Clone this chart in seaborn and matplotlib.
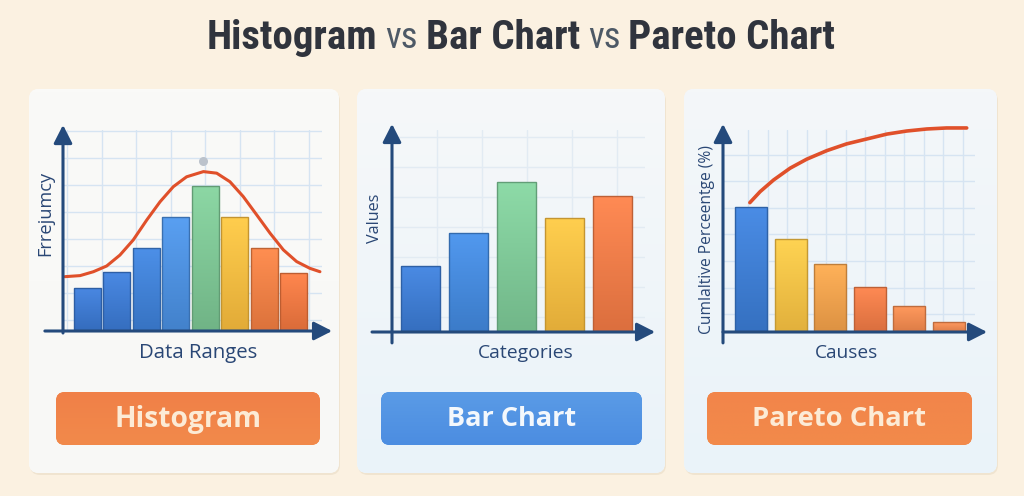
import matplotlib
matplotlib.use("Agg")
import matplotlib.pyplot as plt
import matplotlib.colors as mcolors
import numpy as np
import seaborn as sns
from matplotlib.patches import FancyBboxPatch
from matplotlib.colors import LinearSegmentedColormap
from matplotlib import font_manager

# --- data ---
# histogram: bin index and frequency
hist_bins = [0, 1, 2, 3, 4, 5, 6, 7]
hist_freq = [16.5, 22.7, 31.9, 43.8, 55.8, 43.8, 31.9, 22.3]
hist_colors = ['#3A78D2', '#3B7AD4', '#3D80D8', '#4A90E2', '#7DC895', '#FBBE3E', '#F47F42', '#F2773F']
# fitted curve over the histogram (same units)
curve_x = [-0.76, -0.25, 0.20, 0.65, 1.10, 1.55, 2.01, 2.46, 2.91, 3.36,
           3.93, 4.38, 4.83, 5.28, 5.74, 6.19, 6.64, 7.09, 7.54, 7.88]
curve_y = [20.9, 21.3, 22.8, 25.0, 29.2, 35.0, 42.7, 49.7, 55.5, 59.3,
           61.3, 60.7, 57.4, 51.7, 44.6, 37.6, 31.2, 26.7, 24.1, 22.8]

# bar chart
categories = ['A', 'B', 'C', 'D', 'E']
cat_values = [44, 66, 100, 76, 90.7]
cat_colors = ['#3B7BD4', '#4289DF', '#7ECB98', '#FBBF3F', '#F47B45']

# pareto chart
causes = ['C1', 'C2', 'C3', 'C4', 'C5', 'C6']
cause_pct = [61.3, 45.6, 33.3, 22.1, 12.7, 4.9]
cause_colors = ['#3B7DD6', '#FBC443', '#F5A24A', '#F27B45', '#F58A4E', '#F58A50']
cum_x = [-0.03, 0.23, 0.57, 0.99, 1.41, 1.92, 2.42, 2.93, 3.44, 3.94, 4.45, 4.95, 5.46]
cum_pct = [63.4, 68.8, 74.5, 80.3, 84.7, 88.9, 92.2, 94.6, 97.0, 98.5, 99.5, 100.0, 100.0]

# --- style ---
W, H = 1024, 496
BG = '#FBF1E1'
NAVY = '#244A7C'
LABEL = '#2A4775'
RED = '#E0502A'

sns.set_theme(style='white')
avail = {f.name for f in font_manager.fontManager.ttflist}
body_font = 'Open Sans' if 'Open Sans' in avail else 'DejaVu Sans'
title_font = next((f for f in ['Liberation Sans Narrow', 'Roboto Condensed', 'Roboto']
                   if f in avail), 'DejaVu Sans')
plt.rcParams['font.family'] = [body_font, 'DejaVu Sans']

fig = plt.figure(figsize=(W / 100, H / 100), dpi=100)
fig.patch.set_facecolor(BG)

# background axes in pixel units
bg = fig.add_axes([0, 0, 1, 1])
bg.set_xlim(0, W)
bg.set_ylim(H, 0)
bg.axis('off')
bg.set_zorder(0)
renderer = fig.canvas.get_renderer()


def rbox(x0, y0, x1, y1, color, r=9, z=1, **kw):
    p = FancyBboxPatch((x0, y0), x1 - x0, y1 - y0,
                       boxstyle=f'round,pad=0,rounding_size={r}',
                       fc=color, ec='none', zorder=z, **kw)
    bg.add_patch(p)
    return p


def vgrad(patch, top, bottom, z):
    cmap = LinearSegmentedColormap.from_list('v', [top, bottom])
    x0, y0 = patch.get_x(), patch.get_y()
    x1, y1 = x0 + patch.get_width(), y0 + patch.get_height()
    im = bg.imshow(np.linspace(0, 1, 128).reshape(-1, 1), cmap=cmap, aspect='auto',
                   extent=[x0, x1, y1, y0], zorder=z)
    im.set_clip_path(patch)


def fit_text(t, target, vertical=False):
    ext = t.get_window_extent(renderer)
    size = ext.height if vertical else ext.width
    t.set_fontsize(t.get_fontsize() * target / size)


# panels
panels = [(29, 89, 339, 473, '#FAFAF8', '#F8F8F6'),
          (357, 89, 665, 473, '#F6F8F9', '#EAF3FA'),
          (684, 89, 997, 473, '#F4F7F9', '#EAF3FA')]
for x0, y0, x1, y1, ctop, cbot in panels:
    rbox(x0 + 1, y0 + 2, x1 + 1, y1 + 2, '#E9DCC6', r=10, z=1, alpha=0.6)
    p = rbox(x0, y0, x1, y1, ctop, r=10, z=2)
    vgrad(p, ctop, cbot, 2.1)

# buttons
buttons = [(56, 392, 320, 445, '#F28A4B', '#F08048', 'Histogram', '#FCEBD6', 147),
           (381, 392, 642, 445, '#4C8DE1', '#5A9BE6', 'Bar Chart', '#F4F8FC', 130),
           (707, 392, 972, 445, '#F28A4B', '#F2854A', 'Pareto Chart', '#FCEBD6', 175)]
for x0, y0, x1, y1, c1, c2, label, tc, tw in buttons:
    p = rbox(x0, y0, x1, y1, c1, r=9, z=3)
    vgrad(p, c2, c1, 3.1)
    t = bg.text((x0 + x1) / 2, (y0 + y1) / 2 + 1, label, ha='center', va='center',
                fontsize=18, fontweight='bold', color=tc, zorder=4)
    fit_text(t, tw)

# title made of pieces with different weights
pieces = [('Histogram', 'bold', '#30343D'), ('vs', 'normal', '#4D5966'),
          ('Bar Chart', 'bold', '#30343D'), ('vs', 'normal', '#4D5966'),
          ('Pareto Chart', 'bold', '#30343D')]
texts = []
for s, wt, c in pieces:
    texts.append(bg.text(0, 38, s, ha='left', va='center', fontsize=20 if wt == 'bold' else 18,
                         fontweight=wt, color=c, family=[title_font, 'DejaVu Sans'], zorder=4))
gap = 8
widths = [t.get_window_extent(renderer).width for t in texts]
scale = (628 - gap * 4) / sum(widths)
for t in texts:
    t.set_fontsize(t.get_fontsize() * scale)
widths = [t.get_window_extent(renderer).width for t in texts]
x = 521 - (sum(widths) + gap * 4) / 2
for t, w in zip(texts, widths):
    t.set_x(x)
    x += w + gap

# axis labels (x, y, text, rotation, target length in px)
labels = [(198, 353, 'Data Ranges', 0, 118),
          (526, 353, 'Categories', 0, 95),
          (846, 353, 'Causes', 0, 63),
          (45, 213, 'Frrejumcy', 90, 85),
          (375, 218, 'Values', 90, 49),
          (707, 239, 'Cumlaltive Perceentge (%)', 90, 188)]
for lx, ly, s, rot, size in labels:
    t = bg.text(lx, ly, s, ha='center', va='center', rotation=rot, fontsize=12,
                color=LABEL, zorder=4)
    fit_text(t, size, vertical=bool(rot))


def chart_axes(left, right, top, bottom):
    ax = fig.add_axes([left / W, 1 - bottom / H, (right - left) / W, (bottom - top) / H])
    ax.set_facecolor('none')
    ax.set_zorder(5)
    for s in ax.spines.values():
        s.set_visible(False)
    ax.set_axisbelow(True)
    return ax


def style_grid(ax, xs, ys, color):
    ax.set_xticks(xs)
    ax.set_yticks(ys)
    ax.tick_params(length=0, labelbottom=False, labelleft=False)
    ax.grid(True, color=color, lw=1)
    ax.set_xlabel('')
    ax.set_ylabel('')


def shade_bars(ax, bars, colors):
    for bar, c in zip(bars, colors):
        rgb = np.array(mcolors.to_rgb(c))
        top = np.clip(rgb + 0.06, 0, 1)
        bot = rgb * 0.9
        cmap = LinearSegmentedColormap.from_list('b', [bot, top])
        x0, y0 = bar.get_x(), bar.get_y()
        im = ax.imshow(np.linspace(0, 1, 64).reshape(-1, 1), origin='lower', cmap=cmap,
                       aspect='auto', extent=[x0, x0 + bar.get_width(), y0, y0 + bar.get_height()],
                       zorder=1.5)
        im.set_clip_path(bar)
        bar.set_facecolor('none')
        bar.set_edgecolor(rgb * 0.78)
        bar.set_linewidth(1.0)
        bar.set_zorder(1.6)


def arrows(ax, x0, x1, y0, y1):
    kw = dict(arrowstyle='-|>,head_length=0.55,head_width=0.28', color=NAVY, lw=2.2,
              shrinkA=0, shrinkB=0, mutation_scale=20)
    ax.annotate('', xy=(x1, 0), xytext=(x0, 0), xycoords='axes fraction',
                arrowprops=kw, annotation_clip=False)
    ax.annotate('', xy=(0, y1), xytext=(0, y0), xycoords='axes fraction',
                arrowprops=kw, annotation_clip=False)


# --- histogram ---
ax1 = chart_axes(63, 322, 130, 331)
sns.histplot(x=hist_bins, weights=hist_freq, discrete=True, shrink=0.915, ax=ax1)
shade_bars(ax1, ax1.patches, hist_colors)
sns.lineplot(x=curve_x, y=curve_y, color=RED, lw=2.2, ax=ax1, zorder=3)
peak = int(np.argmax(curve_y))
ax1.scatter([curve_x[peak]], [curve_y[peak] + 4.2], s=30, color='#BCC3CC', zorder=3, clip_on=False)
style_grid(ax1, np.arange(-0.69, 8, 1.17), np.arange(4.2, 80, 10.4), '#D6E4F2')
ax1.set_xlim(-0.83, 7.95)
ax1.set_ylim(0, 77.3)
arrows(ax1, -0.07, 1.039, -0.01, 1.025)

# --- bar chart ---
ax2 = chart_axes(392, 645, 130, 332)
sns.barplot(x=categories, y=cat_values, hue=categories, palette=cat_colors, width=0.81,
            legend=False, ax=ax2)
shade_bars(ax2, ax2.patches, cat_colors)
style_grid(ax2, np.arange(0.33, 5, 0.94), np.arange(10, 140, 20), '#E2EBF3')
ax2.set_xlim(-0.6, 4.67)
ax2.set_ylim(0, 134.7)
arrows(ax2, -0.079, 1.04, -0.054, 1.03)

# --- pareto chart ---
ax3 = chart_axes(723, 975, 130, 332)
sns.barplot(x=causes, y=cause_pct, hue=causes, palette=cause_colors, width=0.81,
            legend=False, ax=ax3)
shade_bars(ax3, ax3.patches, cause_colors)
sns.lineplot(x=cum_x, y=cum_pct, color=RED, lw=2.6, ax=ax3, zorder=3)
for line in ax3.lines:
    line.set_clip_on(False)
    line.set_solid_capstyle('round')
style_grid(ax3, np.arange(-0.076, 5.7, 0.494), np.arange(8.8, 100, 13.0), '#D6E4F2')
ax3.set_xlim(-0.71, 5.67)
ax3.set_ylim(0, 99)
arrows(ax3, 0, 1.048, -0.054, 1.03)

fig.savefig('out.png', dpi=100, facecolor=BG)
